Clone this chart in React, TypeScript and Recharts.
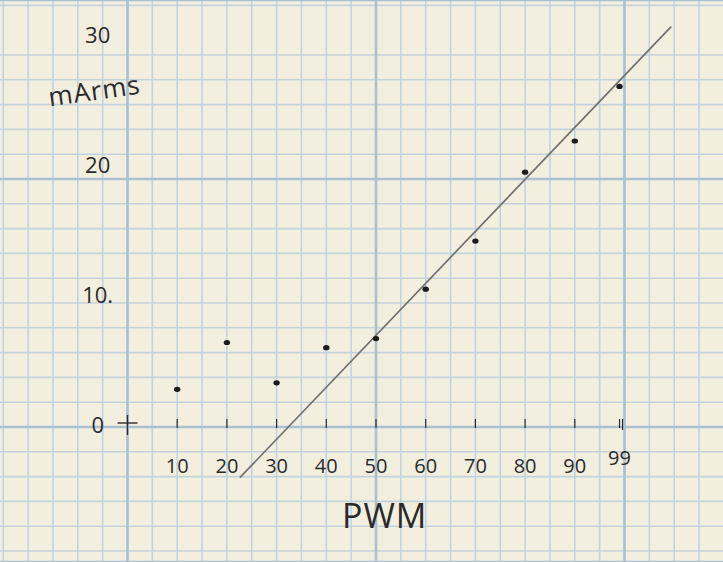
import {
  ComposedChart,
  CartesianGrid,
  XAxis,
  YAxis,
  Scatter,
  ReferenceDot,
} from 'recharts';

const PWM = [10, 20, 30, 40, 50, 60, 70, 80, 90, 99];
const MA_RMS = [2.9, 6.5, 3.4, 6.1, 6.8, 10.6, 14.3, 19.6, 22.0, 26.2];

// the hand-ruled straight line (its two ends)
const FIT_X = [22.6, 109.4];
const FIT_Y = [-3.9, 30.8];

// hand-written tick labels
const X_TICKS = [10, 20, 30, 40, 50, 60, 70, 80, 90, 99];
const X_TICK_LABELS = ['10', '20', '30', '40', '50', '60', '70', '80', '90', '99'];
const Y_TICKS = [0, 10, 20, 30];
const Y_TICK_LABELS = ['0', '10.', '20', '30'];

// graph paper, counted in squares
const PAPER_X = [-5, -4, -3, -2, -1, 0, 1, 2, 3, 4, 5, 6, 7, 8, 9, 10, 11, 12, 13, 14, 15, 16, 17, 18, 19, 20, 21, 22, 23];
const PAPER_Y = [-5, -4, -3, -2, -1, 0, 1, 2, 3, 4, 5, 6, 7, 8, 9, 10, 11, 12, 13, 14, 15, 16, 17];
const PAPER_X_MAJOR = [0, 10, 20];
const PAPER_Y_MAJOR = [0, 10];

const W = 723;
const H = 562;
const SQUARE = 24.85;
const ORIGIN_X = 127.5;
const INK = '#2a2a2a';
const HAND = '"Open Sans", "DejaVu Sans", sans-serif';

const points = PWM.map((x, i) => ({ x, y: MA_RMS[i] }));
const fitLine = FIT_X.map((x, i) => ({ x, y: FIT_Y[i] }));
const xTicks = X_TICKS.map((x, i) => ({ x, y: 0, label: X_TICK_LABELS[i] }));
const yTicks = Y_TICKS.map((y, i) => ({ x: -6, y, label: Y_TICK_LABELS[i] }));

// vertical paper lines (pixel positions of the squares)
const paperCols = PAPER_X.map((t) => ORIGIN_X + t * SQUARE);
const paperColsMajor = PAPER_X_MAJOR.map((t) => ORIGIN_X + t * SQUARE);

const Dot = (props: any) => (
  <ellipse cx={props.cx} cy={props.cy} rx={3.2} ry={2.6} fill="#1b1b1b" />
);

const XTick = (props: any) => {
  const { cx, cy, payload } = props;
  const dbl = payload.x === 99;
  return (
    <g>
      <line x1={cx} x2={cx} y1={cy - 8} y2={cy + 1} stroke={INK} strokeWidth={1.2} />
      {dbl && <line x1={cx + 3} x2={cx + 3} y1={cy - 8} y2={cy + 3} stroke={INK} strokeWidth={1.2} />}
      <text
        x={cx}
        y={cy + (dbl ? 31 : 39)}
        textAnchor="middle"
        dominantBaseline="central"
        fontFamily={HAND}
        fontSize={20}
        fill={INK}
      >
        {payload.label}
      </text>
    </g>
  );
};

const YTick = (props: any) => (
  <text
    x={props.cx}
    y={props.cy - 3}
    textAnchor="middle"
    dominantBaseline="central"
    fontFamily={HAND}
    fontSize={22}
    fill={INK}
  >
    {props.payload.label}
  </text>
);

const Plus = (props: any) => (
  <g stroke={INK} strokeWidth={1.4}>
    <line x1={props.cx - 10} x2={props.cx + 10} y1={props.cy - 4} y2={props.cy - 4} />
    <line x1={props.cx} x2={props.cx} y1={props.cy - 12} y2={props.cy + 8} />
  </g>
);

export default function App() {
  return (
    <div
      style={{
        position: 'absolute',
        left: 0,
        top: 0,
        width: W,
        height: H,
        background: '#f3efdf',
        overflow: 'hidden',
      }}
    >
      <ComposedChart width={W} height={H} margin={{ top: 0, right: 0, bottom: 0, left: 0 }}>
        {/* paper axes */}
        <XAxis xAxisId="gx" type="number" domain={[-5.131, 23.964]} ticks={PAPER_X} hide allowDataOverflow />
        <YAxis yAxisId="gy" type="number" domain={[-5.444, 17.218]} ticks={PAPER_Y} hide allowDataOverflow />
        <XAxis xAxisId="gX" type="number" domain={[-5.131, 23.964]} ticks={PAPER_X_MAJOR} hide allowDataOverflow />
        <YAxis yAxisId="gY" type="number" domain={[-5.444, 17.218]} ticks={PAPER_Y_MAJOR} hide allowDataOverflow />
        {/* data axes */}
        <XAxis xAxisId="x" type="number" dataKey="x" domain={[-25.654, 119.82]} hide allowDataOverflow />
        <YAxis yAxisId="y" type="number" dataKey="y" domain={[-10.385, 32.846]} hide allowDataOverflow />

        <CartesianGrid
          xAxisId="gx"
          yAxisId="gy"
          verticalPoints={paperCols}
          stroke="#c3d3de"
          strokeWidth={1.6}
          fill="none"
        />
        <CartesianGrid
          xAxisId="gX"
          yAxisId="gY"
          verticalPoints={paperColsMajor}
          stroke="#a9c0d5"
          strokeWidth={2.6}
          fill="none"
        />

        <Scatter
          xAxisId="x"
          yAxisId="y"
          data={fitLine}
          line={{ stroke: '#707070', strokeWidth: 1.7 }}
          shape={() => null}
          isAnimationActive={false}
        />
        <Scatter xAxisId="x" yAxisId="y" data={xTicks} shape={XTick} isAnimationActive={false} />
        <Scatter xAxisId="x" yAxisId="y" data={yTicks} shape={YTick} isAnimationActive={false} />
        <Scatter xAxisId="x" yAxisId="y" data={points} shape={Dot} isAnimationActive={false} />
        <ReferenceDot xAxisId="x" yAxisId="y" x={0} y={0} shape={Plus} />
      </ComposedChart>

      <div
        style={{
          position: 'absolute',
          left: 48,
          top: 72,
          fontFamily: HAND,
          fontSize: 26,
          color: INK,
          transform: 'rotate(-8deg)',
          letterSpacing: 1,
        }}
      >
        mArms
      </div>
      <div
        style={{
          position: 'absolute',
          left: 342,
          top: 492,
          fontFamily: HAND,
          fontSize: 34,
          color: INK,
          letterSpacing: 1,
        }}
      >
        PWM
      </div>
    </div>
  );
}
